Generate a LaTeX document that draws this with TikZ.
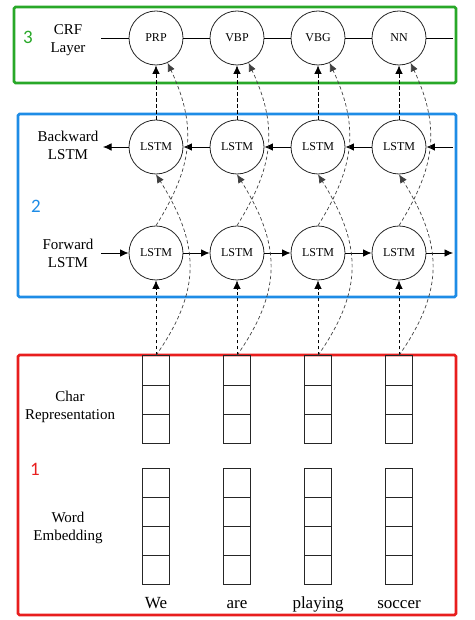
\documentclass[tikz,border=0pt]{standalone}
\usepackage{fontspec}
\setmainfont{Liberation Serif}
\newfontfamily\layerfont{Carlito}
\usepackage{tikz}
\usetikzlibrary{arrows.meta}
\usetikzlibrary{positioning}
\usetikzlibrary{shapes.multipart}
\definecolor{crfgreen}{RGB}{40,168,40}
\definecolor{lstmblue}{RGB}{30,140,230}
\definecolor{embred}{RGB}{232,30,30}
\tikzset{
    unit/.style={
           circle,
           draw=black!85, line width=0.8pt,
           minimum size=54pt,
           inner sep=0pt,
           font=\fontsize{12}{14}\selectfont,
           },
    charvec/.style={
           rectangle split,
           rectangle split parts=3,
           rectangle split empty part width=22pt,
           rectangle split empty part height=28.3pt,
           rectangle split empty part depth=0pt,
           draw=black!85, line width=0.8pt,
           inner sep=0pt,
           },
    wordvec/.style={
           charvec,
           rectangle split parts=4,
           },
    rowname/.style={
           align=center,
           font=\fontsize{15}{18}\selectfont,
           },
    word/.style={
           anchor=base,
           font=\fontsize{17}{20}\selectfont,
           },
    layernum/.style={
           font=\layerfont\fontsize{19}{22}\selectfont,
           },
    layerbox/.style={
           line width=2.6pt,
           rounded corners=1.5pt,
           },
    flow/.style={
           dash pattern=on 3.5pt off 2.5pt,
           line width=0.7pt,
           },
}

\begin{document}
\begin{tikzpicture}[x=1pt, y=1pt, ->, >={Latex[length=8.5pt,width=7.5pt]}]
 \useasboundingbox (0,0) rectangle (474,620);

 % frames round the three layers
 \draw[-, layerbox, draw=crfgreen] (14,537) rectangle (456,613);
 \draw[-, layerbox, draw=lstmblue] (18,323) rectangle (456,506);
 \draw[-, layerbox, draw=embred] (18,5) rectangle (456,265);

 \node[layernum, text=crfgreen] (NUM3) at (28,583) {3};
 \node[layernum, text=lstmblue] (NUM2) at (36,414) {2};
 \node[layernum, text=embred] (NUM1) at (35,151) {1};

 % names of the rows
 \node[rowname] (CRFNAME) at (68,580) {CRF\\Layer};
 \node[rowname] (BWNAME) at (68,475) {Backward\\LSTM};
 \node[rowname] (FWNAME) at (68,367) {Forward\\LSTM};
 \node[rowname] (CHARNAME) at (70,213) {Char\\Representation};
 \node[rowname] (WORDNAME) at (68,92) {Word\\Embedding};

 % CRF layer: the tags
 \node[unit] (PRP) at (156,582) {PRP};
 \node[unit, right of=PRP, node distance=81pt] (VBP) {VBP};
 \node[unit, right of=VBP, node distance=81pt] (VBG) {VBG};
 \node[unit, right of=VBG, node distance=81pt] (NN) {NN};

 % backward LSTM
 \node[unit, below of=PRP, node distance=109pt] (BW1) {LSTM};
 \node[unit, right of=BW1, node distance=81pt] (BW2) {LSTM};
 \node[unit, right of=BW2, node distance=81pt] (BW3) {LSTM};
 \node[unit, right of=BW3, node distance=81pt] (BW4) {LSTM};

 % forward LSTM
 \node[unit, below of=BW1, node distance=106pt] (FW1) {LSTM};
 \node[unit, right of=FW1, node distance=81pt] (FW2) {LSTM};
 \node[unit, right of=FW2, node distance=81pt] (FW3) {LSTM};
 \node[unit, right of=FW3, node distance=81pt] (FW4) {LSTM};

 % char representation and word embedding
 \node[charvec] (CHAR1) at (156,220.5) {};
 \node[charvec, right of=CHAR1, node distance=81pt] (CHAR2) {};
 \node[charvec, right of=CHAR2, node distance=81pt] (CHAR3) {};
 \node[charvec, right of=CHAR3, node distance=81pt] (CHAR4) {};

 \node[wordvec] (WORD1) at (156,93.5) {};
 \node[wordvec, right of=WORD1, node distance=81pt] (WORD2) {};
 \node[wordvec, right of=WORD2, node distance=81pt] (WORD3) {};
 \node[wordvec, right of=WORD3, node distance=81pt] (WORD4) {};

 \node[word] (WE) at (156,11) {We};
 \node[word] (ARE) at (237,11) {are};
 \node[word] (PLAYING) at (318,11) {playing};
 \node[word] (SOCCER) at (399,11) {soccer};

 % loose ends of the chains
 \coordinate (CRFIN) at (101,582);
 \coordinate (CRFOUT) at (453,582);
 \coordinate (BWIN) at (453,473);
 \coordinate (BWOUT) at (103,473);
 \coordinate (FWIN) at (101,367);
 \coordinate (FWOUT) at (453,367);

 % CRF chain, no arrows
 \draw[-, line width=0.8pt] (CRFIN) -- (PRP) -- (VBP) -- (VBG) -- (NN) -- (CRFOUT);

 % the two LSTM chains
 \path[line width=0.8pt]
 (BWIN)	edge	(BW4)
 (BW4)	edge	(BW3)
 (BW3)	edge	(BW2)
 (BW2)	edge	(BW1)
 (BW1)	edge	(BWOUT)

 (FWIN)	edge	(FW1)
 (FW1)	edge	(FW2)
 (FW2)	edge	(FW3)
 (FW3)	edge	(FW4)
 (FW4)	edge	(FWOUT)
 ;

 % dashed inputs, straight and curved
 \path[flow]
 (CHAR1.north)	edge	(FW1.south)
 (CHAR2.north)	edge	(FW2.south)
 (CHAR3.north)	edge	(FW3.south)
 (CHAR4.north)	edge	(FW4.south)

 (BW1.north)	edge	(PRP.south)
 (BW2.north)	edge	(VBP.south)
 (BW3.north)	edge	(VBG.south)
 (BW4.north)	edge	(NN.south)

 (CHAR1.north)	edge[black!75, out=55, in=-58, looseness=1.15]	(BW1.south)
 (CHAR2.north)	edge[black!75, out=55, in=-58, looseness=1.15]	(BW2.south)
 (CHAR3.north)	edge[black!75, out=55, in=-58, looseness=1.15]	(BW3.south)
 (CHAR4.north)	edge[black!75, out=55, in=-58, looseness=1.15]	(BW4.south)

 (FW1.north)	edge[black!75, out=58, in=-65, looseness=1.1]	(PRP)
 (FW2.north)	edge[black!75, out=58, in=-65, looseness=1.1]	(VBP)
 (FW3.north)	edge[black!75, out=58, in=-65, looseness=1.1]	(VBG)
 (FW4.north)	edge[black!75, out=58, in=-65, looseness=1.1]	(NN)
 ;
\end{tikzpicture}
\end{document}
